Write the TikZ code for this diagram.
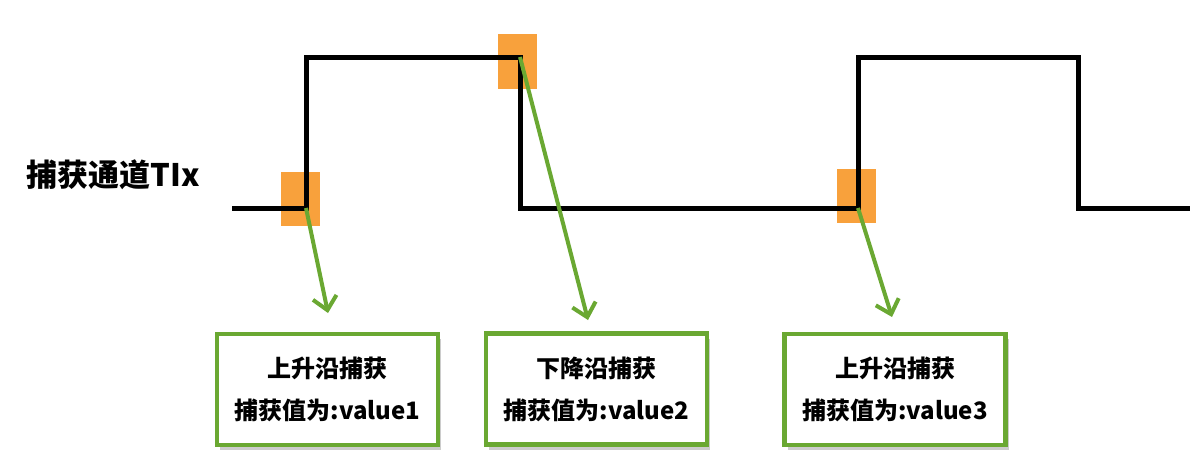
\documentclass[tikz,border=0pt]{standalone}
\usepackage{fontspec}
\newfontfamily\cjk{Noto Sans CJK SC}
\usetikzlibrary{arrows.meta,shadows}
\definecolor{orangesq}{RGB}{248,161,60}
\definecolor{garrow}{RGB}{106,168,50}
\begin{document}
\begin{tikzpicture}[x=1pt,y=-1pt,
  mark square/.style={fill=orangesq, draw=none, inner sep=0pt, minimum width=39pt, minimum height=54pt},
  wave/.style={line width=5pt, black},
  capture arrow/.style={draw=garrow, line width=4pt, -{Straight Barb[length=13pt,width=24pt]}},
  capbox/.style={draw=garrow, line width=4.5pt, fill=white, minimum width=221pt, minimum height=111pt,
    inner sep=0pt, align=center, font=\cjk\bfseries\fontsize{24}{42}\selectfont,
    drop shadow={shadow xshift=3pt, shadow yshift=-5pt, opacity=0.4, fill=black!50}}
]
\useasboundingbox (0,0) rectangle (1198,469);
\fill[white] (0,0) rectangle (1198,469);
% title
\node[font=\cjk\bfseries\fontsize{31}{36}\selectfont] (title) at (113,175) {捕获通道TIx};
% orange markers
\node[mark square] (o1) at (300.5,199) {};
\node[mark square, minimum height=55pt] (o2) at (517.5,61.5) {};
\node[mark square] (o3) at (856.5,196) {};
% waveform
\coordinate (c1) at (306,208);
\coordinate (c2) at (520,57);
\coordinate (c3) at (858,208);
\draw[wave] (232,208) -- (c1) -- (306,57) -- (c2) -- (520,208) -- (c3) -- (858,57) -- (1078,57) -- (1078,208) -- (1190,208);
% boxes
\node[capbox] (b1) at (327.5,389.5) {上升沿捕获\\捕获值为:value1};
\node[capbox] (b2) at (596.5,389) {下降沿捕获\\捕获值为:value2};
\node[capbox] (b3) at (895,389.5) {上升沿捕获\\捕获值为:value3};
% arrow tips
\coordinate (t1) at (328,313);
\coordinate (t2) at (588,320);
\coordinate (t3) at (892,317);
\draw[capture arrow] (c1) -- (t1);
\draw[capture arrow] (c2) -- (t2);
\draw[capture arrow] (c3) -- (t3);
\end{tikzpicture}
\end{document}
